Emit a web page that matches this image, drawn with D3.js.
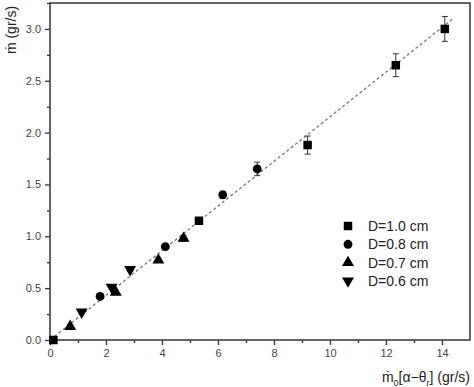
<!DOCTYPE html>
<html>
<head>
<meta charset="utf-8">
<script src="https://cdn.jsdelivr.net/npm/d3@7"></script>
<style>
	body { margin:0; background:#fff; }
	text { font-family: "Liberation Sans", Arial, sans-serif; }
</style>
</head>
<body>
<svg id="chart" width="474" height="387"></svg>
<script>
// data: [x, y, error]
var d10 = [[0.12, 0.0, 0.0], [5.32, 1.15, 0.03], [9.2, 1.88, 0.087], [12.35, 2.65, 0.11], [14.1, 3.0, 0.12]];
var d08 = [[1.79, 0.42, 0.02], [4.12, 0.90, 0.02], [6.17, 1.40, 0.035], [7.4, 1.65, 0.065]];
var d07 = [[0.72, 0.13, 0.02], [2.35, 0.46, 0.02], [3.87, 0.77, 0.02], [4.77, 0.98, 0.03]];
var d06 = [[1.13, 0.27, 0.02], [2.2, 0.51, 0.02], [2.86, 0.68, 0.02]];
var fitLine = [[0, 0], [14.4, 3.1]];
var seriesNames = ["D=1.0 cm", "D=0.8 cm", "D=0.7 cm", "D=0.6 cm"];
var xTicks = [0, 2, 4, 6, 8, 10, 12, 14];
var yTicks = [0.0, 0.5, 1.0, 1.5, 2.0, 2.5, 3.0];

(function(){
	var svg = d3.select("#chart");
	var left = 50, right = 470, top = 3, bottom = 340;
	var axisCol = "#333";

	var x = d3.scaleLinear().domain([0, 15]).range([left, right]);
	var y = d3.scaleLinear().domain([0, 3.25]).range([bottom, top]);

	// frame
	svg.append("rect")
		.attr("x", left).attr("y", top)
		.attr("width", right - left).attr("height", bottom - top)
		.attr("fill", "none").attr("stroke", axisCol).attr("stroke-width", 1.5);

	// x axis
	var xAxis = d3.axisBottom(x).tickValues(xTicks).tickSize(5).tickPadding(4).tickFormat(d3.format("d"));
	var gx = svg.append("g").attr("transform", "translate(0," + bottom + ")").call(xAxis);
	svg.append("g").attr("transform", "translate(0," + bottom + ")")
		.call(d3.axisBottom(x).tickValues(d3.range(1, 15, 2)).tickSize(3).tickFormat(""));

	// y axis
	var yAxis = d3.axisLeft(y).tickValues(yTicks).tickSize(5).tickPadding(4).tickFormat(d3.format(".1f"));
	var gy = svg.append("g").attr("transform", "translate(" + left + ",0)").call(yAxis);
	svg.append("g").attr("transform", "translate(" + left + ",0)")
		.call(d3.axisLeft(y).tickValues([0.25, 0.75, 1.25, 1.75, 2.25, 2.75, 3.25]).tickSize(3).tickFormat(""));

	svg.selectAll(".domain").remove();
	svg.selectAll(".tick line").attr("stroke", axisCol).attr("stroke-width", 1.3);
	svg.selectAll(".tick text").attr("fill", "#444").style("font-size", "11px")
		.style("font-family", "'Liberation Sans', Arial, sans-serif");

	// fit line
	svg.append("line")
		.attr("x1", x(fitLine[0][0])).attr("y1", y(fitLine[0][1]))
		.attr("x2", x(fitLine[1][0])).attr("y2", y(fitLine[1][1]))
		.attr("stroke", "#777").attr("stroke-width", 1.3).attr("stroke-dasharray", "3,2.5");

	var sym = [
		{data: d10, type: d3.symbolSquare, size: 72, rot: 0},
		{data: d08, type: d3.symbolCircle, size: 62, rot: 0},
		{data: d07, type: d3.symbolTriangle, size: 62, rot: 0},
		{data: d06, type: d3.symbolTriangle, size: 62, rot: 180}
	];

	sym.forEach(function(s){
		var g = svg.append("g");
		// error bars
		s.data.forEach(function(d){
			if (d[2] <= 0) return;
			var cx = x(d[0]), y1 = y(d[1] + d[2]), y2 = y(d[1] - d[2]);
			g.append("line").attr("x1", cx).attr("x2", cx).attr("y1", y1).attr("y2", y2)
				.attr("stroke", "#333").attr("stroke-width", 1);
			g.append("line").attr("x1", cx - 3).attr("x2", cx + 3).attr("y1", y1).attr("y2", y1)
				.attr("stroke", "#333").attr("stroke-width", 1);
			g.append("line").attr("x1", cx - 3).attr("x2", cx + 3).attr("y1", y2).attr("y2", y2)
				.attr("stroke", "#333").attr("stroke-width", 1);
		});
		g.selectAll("path").data(s.data).enter().append("path")
			.attr("d", d3.symbol().type(s.type).size(s.size))
			.attr("transform", function(d){
				return "translate(" + x(d[0]) + "," + y(d[1]) + ") rotate(" + s.rot + ")";
			})
			.attr("fill", "#000");
	});

	// legend
	var lg = svg.append("g");
	seriesNames.forEach(function(name, i){
		var ly = 226 + i * 18.3;
		lg.append("path")
			.attr("d", d3.symbol().type(sym[i].type).size(sym[i].size))
			.attr("transform", "translate(348," + ly + ") rotate(" + sym[i].rot + ")")
			.attr("fill", "#000");
		lg.append("text").attr("x", 368).attr("y", ly + 5)
			.attr("fill", "#222").style("font-size", "14px").text(name);
	});

	// axis titles
	var xt = svg.append("text").attr("x", 470).attr("y", 382).attr("text-anchor", "end")
		.attr("fill", "#222").style("font-size", "14px");
	xt.append("tspan").text("\u1E41");
	xt.append("tspan").attr("dy", 4).style("font-size", "9px").text("0");
	xt.append("tspan").attr("dy", -4).text("[\u03B1\u2212\u03B8");
	xt.append("tspan").attr("dy", 4).style("font-size", "9px").text("r");
	xt.append("tspan").attr("dy", -4).text("] (gr/s)");

	svg.append("text").attr("transform", "translate(16,30) rotate(-90)")
		.attr("text-anchor", "middle").attr("fill", "#222").style("font-size", "14px")
		.text("\u1E41 (gr/s)");
})();
</script>
</body>
</html>
